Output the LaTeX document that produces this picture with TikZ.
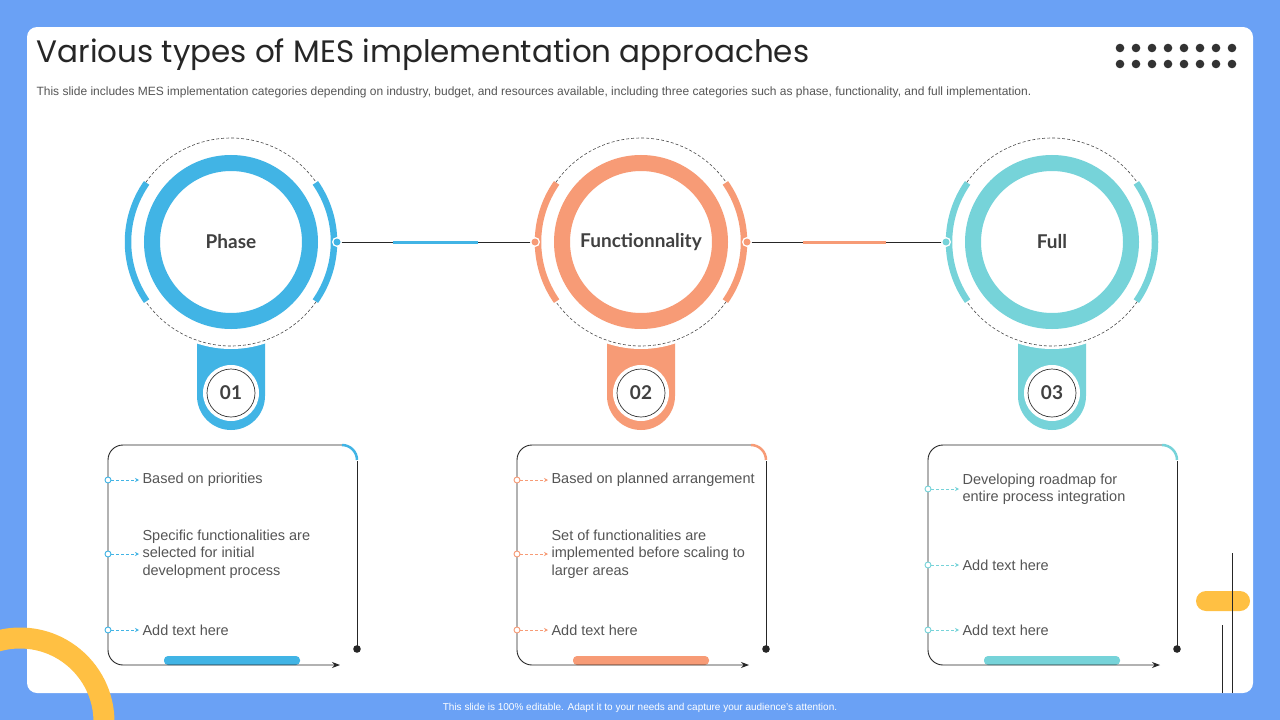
\documentclass[tikz,border=0pt]{standalone}
\usepackage{fontspec}
\setmainfont{Liberation Sans}
\newfontfamily\titlefont{Poppins}
\newfontfamily\labfont{Lato}
\usetikzlibrary{arrows.meta}
\definecolor{bgblue}{HTML}{6AA1F5}
\definecolor{cA}{HTML}{41B4E5}
\definecolor{cB}{HTML}{F79B76}
\definecolor{cC}{HTML}{76D3D9}
\definecolor{yel}{HTML}{FFC043}
\definecolor{txt}{HTML}{555555}
\tikzset{
 body/.style={font=\fontsize{14.5}{17.5}\selectfont, text=txt, anchor=west, align=left},
 bul/.style={densely dashed, -{Stealth[length=4pt,width=4pt]}, line width=0.8pt},
}
\begin{document}
\begin{tikzpicture}[x=1pt,y=-1pt]
\fill[bgblue] (0,0) rectangle (1280,720);
\useasboundingbox (0,0) rectangle (1280,720);
\fill[white, rounded corners=10pt] (27,27) rectangle (1253,693);
\node[anchor=west, font=\titlefont\fontsize{31}{36}\selectfont, text=black!85] (title) at (33,55) {Various types of MES implementation approaches};
\node[anchor=west, font=\fontsize{12}{14}\selectfont, text=txt] (sub) at (33,92) {This slide includes MES implementation categories depending on industry, budget, and resources available, including three categories such as phase, functionality, and full implementation.};
\foreach \i in {0,...,7}{\foreach \j in {0,1}{\fill[black!80] (1120+\i*16,48+\j*16) circle (4.3);}}
\node[font=\fontsize{10}{12}\selectfont, text=white] (foot) at (640,708) {This slide is 100\% editable. Adapt it to your needs and capture your audience's attention.};
% stages
\foreach \cx/\col/\lab/\num/\nm in {231/cA/Phase/01/a, 641/cB/Functionnality/02/b, 1052/cC/Full/03/c}{
 \fill[\col] (\cx-34,330) -- (\cx+34,330) -- (\cx+34,396) arc (0:180:34) -- cycle;
 \fill[white] (\cx,393) circle (28);
 \draw[black!80, line width=0.7pt] (\cx,393) circle (24);
 \node[font=\labfont\bfseries\fontsize{19}{22}\selectfont, text=black!75] (n\nm) at (\cx,393) {\num};
 \fill[white] (\cx,242) circle (107);
 \draw[\col, line width=16pt] (\cx,242) circle (79);
 \node[font=\labfont\bfseries\fontsize{19}{22}\selectfont, text=black!75] (c\nm) at (\cx,242) {\lab};
 \draw[\col, line width=6.5pt] ([shift={(145:103)}]\cx,242) arc (145:215:103);
 \draw[\col, line width=6.5pt] ([shift={(35:103)}]\cx,242) arc (35:-35:103);
 \draw[black!70, densely dashed, line width=0.6pt] ([shift={(35:104)}]\cx,242) arc (35:145:104);
 \draw[black!70, densely dashed, line width=0.6pt] ([shift={(215:104)}]\cx,242) arc (215:325:104);
 \coordinate (L\nm) at (\cx-106,242);
 \coordinate (R\nm) at (\cx+106,242);
}
\draw[black!85, line width=0.8pt] (Ra) -- (Lb);
\draw[cA, line width=3pt] (393,242) -- (478,242);
\draw[black!85, line width=0.8pt] (Rb) -- (Lc);
\draw[cB, line width=3pt] (803,242) -- (886,242);
\foreach \p/\col in {Ra/cA,Lb/cB,Rb/cB,Lc/cC}{\fill[white] (\p) circle (5); \fill[\col] (\p) circle (3.5);}
% boxes
\foreach \bx/\col/\nm in {108/cA/a, 517/cB/b, 928/cC/c}{
 \fill[\col, rounded corners=4pt] (\bx+56,665) -- (\bx+56,656) -- (\bx+192,656) -- (\bx+192,665) -- cycle;
 \draw[black!85, line width=0.9pt, -{Stealth[length=8pt,width=6pt]}] (\bx+234,445) -- (\bx+15,445) arc (-90:-180:15) -- (\bx,650) arc (180:90:15) -- (\bx+232,665);
 \draw[\col, line width=2.5pt] (\bx+234,445) arc (-90:0:15);
 \draw[black!85, line width=0.9pt] (\bx+249,461) -- (\bx+249,649);
 \fill[black!85] (\bx+249,649) circle (3.8);
}
\foreach \bx/\col/\y/\t in {108/cA/480/{Based on priorities}, 108/cA/554/{Specific functionalities are\\selected for initial\\development process}, 108/cA/630/{Add text here},
 517/cB/480/{Based on planned arrangement}, 517/cB/554/{Set of functionalities are\\implemented before scaling to\\larger areas}, 517/cB/630/{Add text here},
 928/cC/489/{Developing roadmap for\\entire process integration}, 928/cC/565/{Add text here}, 928/cC/630/{Add text here}}{
 \node[body] (t) at (\bx+31,\y) {\t};
 \draw[\col, bul] (\bx+3,\y) -- (t.west);
 \draw[\col, fill=white, line width=0.9pt] (\bx,\y) circle (3);
}
% decorations
\draw[yel, line width=21pt] ([shift={(0:84)}]20,722) arc (0:-130:84);
\fill[yel, rounded corners=10pt] (1196,591) rectangle (1250,611);
\draw[black!85, line width=0.8pt] (1222,625) -- (1222,693);
\draw[black!85, line width=0.8pt] (1232,553) -- (1232,693);
\end{tikzpicture}
\end{document}
